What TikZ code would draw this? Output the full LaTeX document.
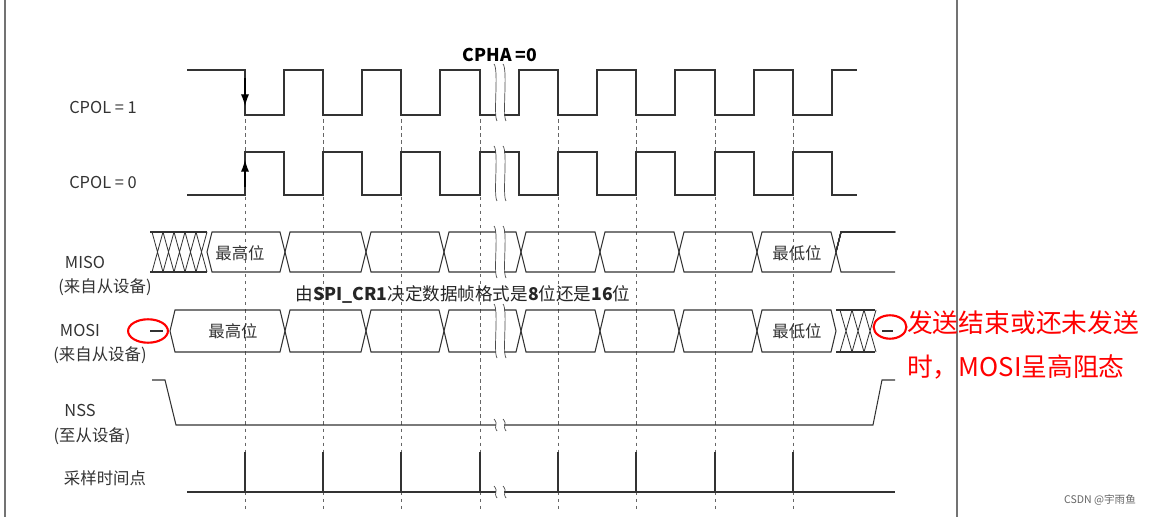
\documentclass[tikz,border=0pt]{standalone}
\usepackage{fontspec}
\setmainfont{Noto Sans CJK SC}
\setsansfont{Noto Sans CJK SC}
\usetikzlibrary{arrows.meta,shapes.geometric}

\tikzset{
  sig/.style={line width=0.9pt, black!80},
  guide/.style={dashed, black!60, line width=0.6pt},
  lbl/.style={font=\fontsize{14}{16}\selectfont, black!80},
  cell/.style={font=\fontsize{14}{16}\selectfont, black!80},
  note/.style={font=\fontsize{22}{26}\selectfont, red, anchor=west},
  ringmark/.style={draw=red, line width=1.8pt, ellipse, inner sep=0pt},
}
% hexagon data cell from #1 to #2 between #3 (top) and #4 (bottom)
\newcommand{\datacell}[4]{%
  \draw[sig] (#1,{(#3+#4)/2}) -- (#1+5,#3) -- (#2-5,#3) -- (#2,{(#3+#4)/2})
    -- (#2-5,#4) -- (#1+5,#4) -- cycle;}
% break mark at x=#1 for a line between #2 and #3
\newcommand{\brk}[3]{%
  \fill[white] (496,#2-5) rectangle (504,#3+5);
  \draw[black!70, line width=0.6pt] (494,#2-6) .. controls (499,#2) and (493,#3) .. (497,#3+6);
  \draw[black!70, line width=0.6pt] (503,#2-6) .. controls (508,#2) and (502,#3) .. (506,#3+6);}

\begin{document}
\begin{tikzpicture}[x=0.03cm, y=-0.03cm]

        \useasboundingbox (0,0) rectangle (1175,517);
        \fill[white] (0,0) rectangle (1175,517);

        % frame
        \draw[black!55, line width=1pt] (5,0) -- (5,517);
        \draw[black!55, line width=1pt] (957,0) -- (957,517);

        \node[font=\bfseries\fontsize{15}{17}\selectfont] (cpha) at (500,55) {CPHA =0};

        % dashed guides
        \foreach \x in {245,323,401,480,558,636,715,793}
            \draw[guide] (\x,70) -- (\x,512);

        % clocks
        \draw[sig] (187,70)
            \foreach \x in {245,323,401,480,558,636,715,793} {
              -- (\x,70) -- (\x,115) -- (\x+39,115) -- (\x+39,70)}
            -- (857,70);
        \draw[sig] (187,195)
            \foreach \x in {245,323,401,480,558,636,715,793} {
              -- (\x,195) -- (\x,152) -- (\x+39,152) -- (\x+39,195)}
            -- (857,195);
        \draw[-{Latex[length=10pt,width=7pt]}, line width=0.9pt] (245,78) -- (245,106);
        \draw[-{Latex[length=10pt,width=7pt]}, line width=0.9pt] (245,187) -- (245,160);
        \brk{500}{70}{115}
        \brk{500}{152}{195}

        % MISO
        \foreach \a/\b in {207/285,285/366,366/444,444/521,521/600,600/679,679/757,757/836}
            \datacell{\a}{\b}{232}{272}
        \draw[sig] (836,252) -- (841,232) -- (895,232);
        \draw[sig] (836,252) -- (841,272) -- (895,272);
        \draw[sig] (150,232) -- (207,232);
        \draw[sig] (150,272) -- (207,272);
        \foreach \i in {0,...,4}
            \draw[sig, line width=0.7pt] (152+\i*11,232) -- (163+\i*11,272)
                                          (152+\i*11,272) -- (163+\i*11,232);
        \node[cell] (misohi) at (240,253) {最高位};
        \node[cell] (misolo) at (797,253) {最低位};
        \brk{500}{232}{272}

        \node[font=\fontsize{15}{18}\selectfont, black!85] (fmt) at (463,294)
            {由\textbf{SPI\_CR1}决定数据帧格式是\textbf{8}位还是\textbf{16}位};

        % MOSI
        \datacell{170}{285}{310}{352}
        \foreach \a/\b in {285/366,366/444,444/521,521/600,600/679,679/757,757/836}
            \datacell{\a}{\b}{310}{352}
        \draw[sig] (836,310) -- (875,310);
        \draw[sig] (836,352) -- (875,352);
        \foreach \i in {0,...,2}
            \draw[sig, line width=0.7pt] (840+\i*12,310) -- (852+\i*12,352)
                                          (840+\i*12,352) -- (852+\i*12,310);
        \draw[sig] (150,331) -- (163,331);
        \draw[sig] (882,331) -- (893,331);
        \node[cell] (mosihi) at (233,331) {最高位};
        \node[cell] (mosilo) at (797,331) {最低位};
        \brk{500}{310}{352}
        \node[ringmark, minimum width=34pt, minimum height=20pt] (circl) at (148,331) {};
        \node[ringmark, minimum width=28pt, minimum height=20pt] (circr) at (890,327) {};

        % NSS
        \draw[sig] (152,380) -- (165,380) -- (176,425) -- (873,425) -- (882,380) -- (895,380);
        \brk{500}{425}{425}

        % sampling points
        \draw[sig] (187,492) -- (895,492);
        \foreach \x in {245,323,401,480,558,636,715,793}
            \draw[sig] (\x,452) -- (\x,492);
        \brk{500}{492}{492}

        % labels
        \node[lbl] (cpol1) at (103,107) {CPOL = 1};
        \node[lbl] (cpol0) at (103,182) {CPOL = 0};
        \node[lbl] (miso) at (85,262) {MISO};
        \node[lbl] (misof) at (105,287) {(来自从设备)};
        \node[lbl] (mosi) at (80,330) {MOSI};
        \node[lbl] (mosif) at (100,355) {(来自从设备)};
        \node[lbl] (nss) at (80,410) {NSS};
        \node[lbl] (nssf) at (92,436) {(至从设备)};
        \node[lbl] (samp) at (105,478) {采样时间点};

        \node[note] (hz1) at (903,323) {发送结束或还未发送};
        \node[note] (hz2) at (903,367) {时，MOSI呈高阻态};
        \node[font=\fontsize{9}{11}\selectfont, black!60] (csdn) at (1100,500) {CSDN @宇雨鱼};

\end{tikzpicture}
\end{document}
